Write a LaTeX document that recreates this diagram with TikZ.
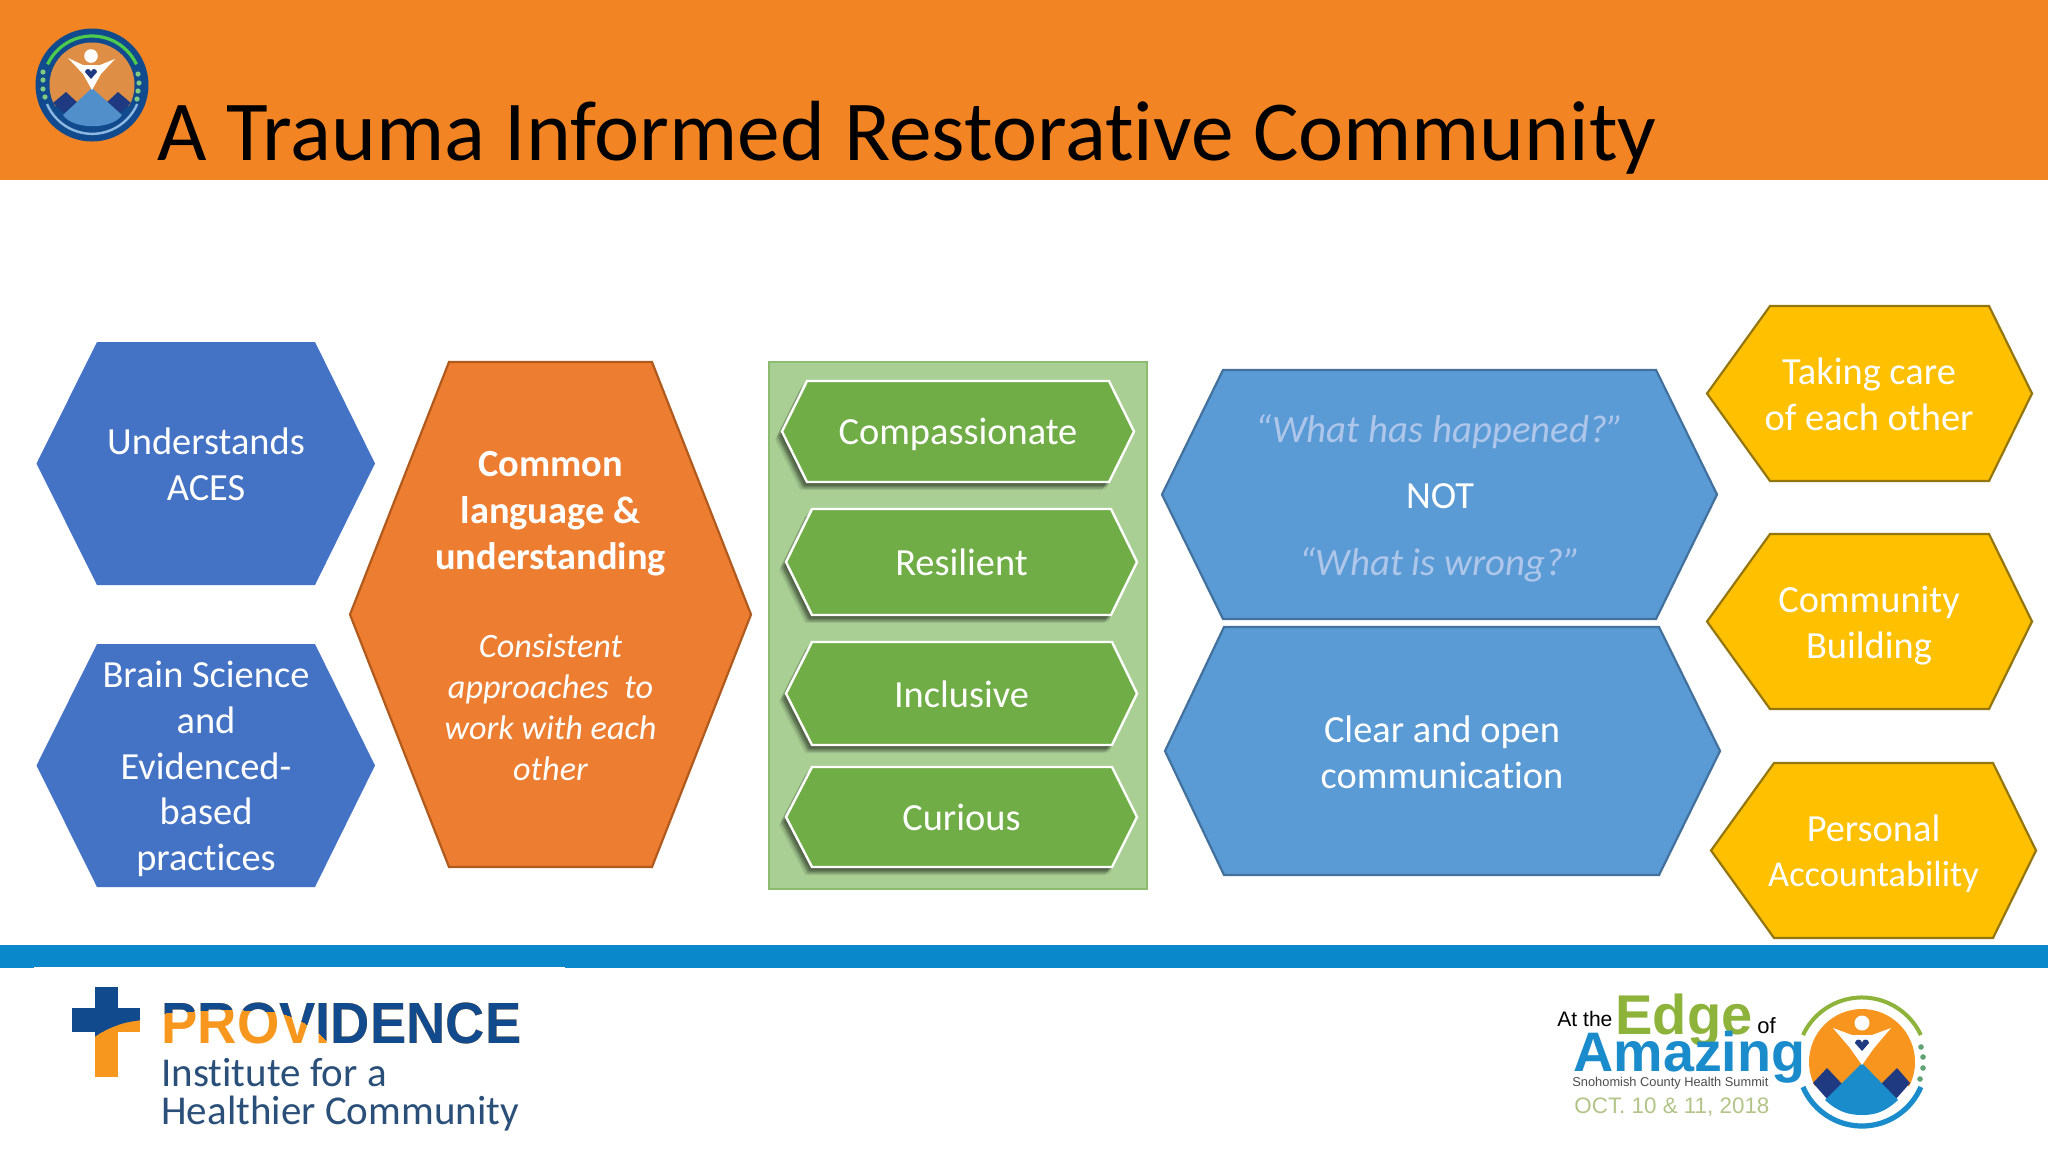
\documentclass[tikz,border=0pt]{standalone}
\usepackage{fontspec}
\setmainfont{Carlito}[Ligatures=NoCommon]
\newfontfamily\logofont{Liberation Sans}
\definecolor{hdr}{HTML}{F28423}
\definecolor{bar}{HTML}{0A88CC}
\definecolor{bluehex}{HTML}{4472C4}
\definecolor{orangehex}{HTML}{ED7D31}
\definecolor{orangeln}{HTML}{B05A1E}
\definecolor{greenhex}{HTML}{70AD47}
\definecolor{greenpanel}{HTML}{A9CF95}
\definecolor{greenln}{HTML}{8DBB70}
\definecolor{skyhex}{HTML}{5B9BD5}
\definecolor{skyln}{HTML}{41719C}
\definecolor{skytext}{HTML}{AEC6EA}
\definecolor{goldhex}{HTML}{FFC000}
\definecolor{goldln}{HTML}{94760F}
\definecolor{navy}{HTML}{124A8E}
\definecolor{provor}{HTML}{F7971D}
\definecolor{provtxt}{HTML}{2A4F78}
\definecolor{edgegr}{HTML}{8DB33A}
\definecolor{amaz}{HTML}{1A8CCB}
\definecolor{octgr}{HTML}{B3C488}
\definecolor{darkmt}{HTML}{1F3A80}
\definecolor{emblemor}{HTML}{DE8F45}
\tikzset{
  hextxt/.style={text=white,align=center,font=\fontsize{19.2}{22.9}\selectfont},
  greenshape/.style={fill=greenhex,draw=white,line width=1.2pt,line join=miter},
  shadowshape/.style={fill=black,fill opacity=.07,draw=none},
  darkedge/.style={line width=1.1pt,line join=miter},
}
% #1 style, #2 left, #3 inner left, #4 inner right, #5 right, #6 top, #7 bottom
\newcommand{\hexa}[7]{\path[#1] (#2,{(#6+#7)/2}) -- (#3,#6) -- (#4,#6) -- (#5,{(#6+#7)/2}) -- (#4,#7) -- (#3,#7) -- cycle;}
\newcommand{\softshadow}[6]{\foreach \dx/\dy in {-1/2,-2/3,-3/4,-4/5,-5/6,-6/7,-7/8,-2/5,-5/4,-3/7}{\begin{scope}[shift={(\dx,\dy)}]\hexa{shadowshape}{#1}{#2}{#3}{#4}{#5}{#6}\end{scope}}}
\begin{document}
\begin{tikzpicture}[x=0.5pt,y=-0.5pt]
\useasboundingbox (0,0) rectangle (2048,1152);
\fill[white] (0,0) rectangle (2048,1152);
% header
\fill[hdr] (0,0) rectangle (2048,180);
\node[anchor=base west,inner sep=0pt,font=\fontsize{42.7}{42.7}\selectfont] (title) at (157,160) {A Trauma Informed Restorative Community};
% top emblem
\fill[navy] (92,85) circle (56.5);
\begin{scope}
\clip (30,20) rectangle (150,105);
\fill[emblemor] (92,85) circle (42.5);
\end{scope}
\draw[line width=1.6pt,green!55!gray!90!white] (47.6,64.3) arc (-155:-25:49);
\draw[line width=1.2pt,skyhex!70!white] (47,104) arc (-203:-337:49);
\foreach \a/\b in {43/72,43/80,43/89,45/97,138/74,139/83,138/91,137/99}{\fill[green!40!gray!70!white] (\a,\b) circle (2.6);}
\fill[darkmt] (53,103) -- (66,92) -- (78,103) -- (66,115) -- cycle;
\fill[darkmt] (131,103) -- (118,92) -- (106,103) -- (118,115) -- cycle;
\fill[skyhex!85!navy] (63,115) -- (92,88) -- (122,115) .. controls (112,130) and (73,130) .. (63,115) -- cycle;
\fill[white] (91,56) circle (6.8);
\fill[white] (68,58) -- (83,65) -- (100,65) -- (115,59) -- (101,74) -- (92,90) -- (83,74) -- cycle;
\fill[darkmt] (91,79) -- (85,72) arc (-180:0:3) arc (-180:0:3) -- cycle;
% left blue hexagons
\hexa{fill=bluehex}{36.5}{97}{315}{375}{342}{585}
\node[hextxt] (aces) at (206,464) {Understands\\ACES};
\hexa{fill=bluehex}{36.5}{97}{315}{375}{644}{887}
\node[hextxt] (brain) at (206,769) {Brain Science\\and\\Evidenced-\\based\\practices};
% orange
\hexa{fill=orangehex,draw=orangeln,darkedge}{350}{449}{652}{751}{362}{867}
\node[text=white,align=center,font=\fontsize{19.2}{23.2}\bfseries\selectfont] (lang) at (550.5,514) {Common\\language \&\\understanding};
\node[text=white,align=center,font=\fontsize{17.1}{20.4}\itshape\selectfont] (cons) at (550.5,707.5) {Consistent\\approaches\ \ to\\work with each\\other};
% green panel
\fill[greenpanel,draw=greenln,line width=.8pt] (769,362) rectangle (1147,889);
\softshadow{782}{807}{1109}{1134}{381}{482}
\softshadow{786}{812}{1111}{1137}{509}{615}
\softshadow{786}{812}{1112}{1137}{642}{745}
\softshadow{786}{812}{1112}{1137}{767}{867}
\hexa{greenshape}{782}{807}{1109}{1134}{381}{482}
\node[hextxt] (comp) at (958,434.5) {Compassionate};
\hexa{greenshape}{786}{812}{1111}{1137}{509}{615}
\node[hextxt] (resi) at (961.5,562) {Resilient};
\hexa{greenshape}{786}{812}{1112}{1137}{642}{745}
\node[hextxt] (incl) at (961.5,694) {Inclusive};
\hexa{greenshape}{786}{812}{1112}{1137}{767}{867}
\node[hextxt] (curi) at (961.5,817) {Curious};
% sky hexagons
\hexa{fill=skyhex,draw=skyln,darkedge}{1162}{1223}{1656}{1717}{370}{619}
\node[text=skytext,font=\fontsize{19.4}{19.4}\itshape\selectfont] (what) at (1440,431.5) {“What has happened?”};
\node[text=white,font=\fontsize{19.2}{19.2}\selectfont] (nott) at (1440,496) {NOT};
\node[text=skytext,font=\fontsize{19.4}{19.4}\itshape\selectfont] (wrong) at (1440,564.5) {“What is wrong?”};
\hexa{fill=skyhex,draw=skyln,darkedge}{1165}{1224}{1659}{1720}{627}{875}
\node[hextxt] (clear) at (1442,752) {Clear and open\\communication};
% gold hexagons
\hexa{fill=goldhex,draw=goldln,darkedge}{1707}{1770}{1989}{2032}{306}{481}
\node[hextxt] (care) at (1869,394) {Taking care\\of each other};
\hexa{fill=goldhex,draw=goldln,darkedge}{1707}{1770}{1989}{2032}{534}{709}
\node[hextxt] (build) at (1869,625.5) {Community\\Building};
\hexa{fill=goldhex,draw=goldln,darkedge}{1711}{1774}{1993}{2036}{763}{938}
\node[hextxt] (acct) at (1873.5,853.5) {Personal\\{\fontsize{18.2}{22.9}\selectfont Accountability}};
% footer bar
\fill[bar] (0,945) rectangle (2048,968);
\fill[white] (34,967) rectangle (565,968);
% Providence logo
\fill[provor] (72,1008) rectangle (140,1032);
\fill[provor] (94.5,987) rectangle (117.5,1077);
\begin{scope}
\clip (65,980) -- (145,980) -- (145,1020) .. controls (125,1021) and (108,1027) .. (94.5,1037) -- (65,1037) -- cycle;
\fill[navy] (72,1008) rectangle (140,1032);
\fill[navy] (94.5,987) rectangle (117.5,1077);
\end{scope}
\node[anchor=base west,inner sep=0pt,text=provor,font=\logofont\bfseries\fontsize{20}{20}\selectfont] (prova) at (161,1043) {\resizebox{180pt}{20.3pt}{PROVIDENCE}};
\begin{scope}
\clip (155,990) -- (530,990) -- (530,1050) -- (335,1050) .. controls (320,1032) and (300,1016) .. (275,1012) .. controls (240,1008) and (195,1010) .. (155,1014) -- cycle;
\node[anchor=base west,inner sep=0pt,text=navy,font=\logofont\bfseries\fontsize{20}{20}\selectfont] (provb) at (161,1043) {\resizebox{180pt}{20.3pt}{PROVIDENCE}};
\end{scope}
\node[anchor=base west,inner sep=0pt,text=provtxt,font=\fontsize{20.5}{20.5}\selectfont] (inst) at (161,1086) {Institute for a};
\node[anchor=base west,inner sep=0pt,text=provtxt,font=\fontsize{20.5}{20.5}\selectfont] (hlth) at (161,1124) {Healthier Community};
% Edge logo
\node[anchor=base west,inner sep=0pt,text=black,font=\logofont\fontsize{11.5}{11.5}\selectfont] (atthe) at (1557,1026) {\resizebox{27.5pt}{!}{At the}};
\node[anchor=base west,inner sep=0pt,text=edgegr,font=\logofont\bfseries\fontsize{24}{24}\selectfont] (edge) at (1615,1034) {\resizebox{68.5pt}{!}{Edge}};
\node[anchor=base west,inner sep=0pt,text=black,font=\logofont\fontsize{11}{11}\selectfont] (of) at (1757,1033) {of};
\node[anchor=base west,inner sep=0pt,text=amaz,font=\logofont\bfseries\fontsize{26}{26}\selectfont] (amaz) at (1573,1071) {\resizebox{116pt}{!}{Amazing}};
\node[anchor=base west,inner sep=0pt,text=black!70,font=\logofont\fontsize{6.5}{6.5}\selectfont] (snoh) at (1572,1086) {\resizebox{98pt}{!}{Snohomish County Health Summit}};
\node[anchor=base west,inner sep=0pt,text=octgr,font=\logofont\fontsize{13}{13}\selectfont] (oct) at (1574,1113) {\resizebox{97.5pt}{!}{OCT. 10 \& 11, 2018}};
\begin{scope}
\clip (1800,990) rectangle (1925,1085);
\fill[provor!90!hdr] (1862,1062) circle (53);
\end{scope}
\fill[darkmt] (1813,1083) -- (1827,1068) -- (1843,1085) -- (1828,1100) -- cycle;
\fill[darkmt] (1910,1083) -- (1897,1068) -- (1880,1085) -- (1895,1100) -- cycle;
\fill[amaz] (1862,1063) -- (1898,1100) .. controls (1885,1112) and (1875,1115) .. (1862,1115) .. controls (1849,1115) and (1838,1112) .. (1825,1100) -- cycle;
\fill[white] (1862,1023) circle (7.5);
\fill[white] (1833,1028) -- (1852,1035) -- (1872,1035) -- (1891,1028) -- (1874,1048) -- (1862,1065) -- (1850,1048) -- cycle;
\fill[darkmt] (1862,1051) -- (1855,1043) arc (-180:0:3.5) arc (-180:0:3.5) -- cycle;
\draw[edgegr,line width=2pt] (1803,1035) arc (-155:-25:65);
\draw[amaz,line width=2.6pt] (1803,1087) arc (-203:-337:64);
\foreach \a/\b in {1921/1047,1923/1057,1923/1068,1920/1079}{\fill[edgegr!60!amaz] (\a,\b) circle (2.8);}
\end{tikzpicture}
\end{document}
